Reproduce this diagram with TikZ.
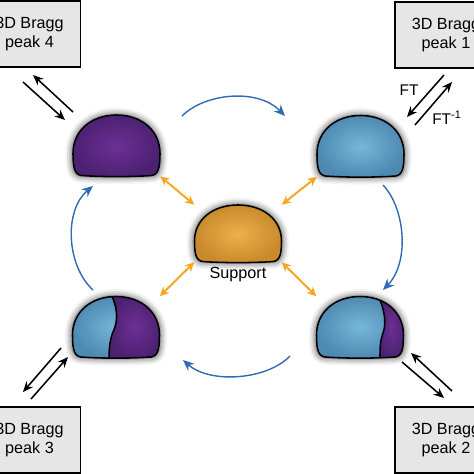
\documentclass[tikz,border=0pt]{standalone}
\usepackage{fontspec}
\setmainfont{Liberation Sans}
\usetikzlibrary{arrows.meta,shadows.blur,positioning}

\definecolor{boxgray}{HTML}{E6E6E6}
\definecolor{purplelight}{HTML}{6C2F96}
\definecolor{purpledark}{HTML}{4C2171}
\definecolor{bluelight}{HTML}{76B7D9}
\definecolor{bluedark}{HTML}{4E89B1}
\definecolor{orangelight}{HTML}{EDB04A}
\definecolor{orangedark}{HTML}{C88A2C}
\definecolor{suporange}{HTML}{F6A623}
\definecolor{cycleblue}{HTML}{2F6CB3}

% dome outline, local pixel units round the centre
\newcommand{\domepath}{(0,-30.5) .. controls (25,-30.5) and (43.5,-15) .. (43.5,8)
  .. controls (43.5,22) and (42,29) .. (35,30)
  .. controls (15,31.5) and (-15,31.5) .. (-35,30)
  .. controls (-42,29) and (-43.5,22) .. (-43.5,8)
  .. controls (-43.5,-15) and (-25,-30.5) .. (0,-30.5) -- cycle}

\begin{document}
\begin{tikzpicture}[x=0.025cm, y=-0.025cm,
	every node/.style={font=\fontsize{11.5}{13}\selectfont},
	peakbox/.style={draw, line width=1.4pt, fill=boxgray, minimum width=2.55cm,
		minimum height=1.65cm, align=center, inner sep=0pt},
	domebox/.style={inner sep=0pt, minimum width=2.175cm, minimum height=1.525cm},
	domeline/.style={draw=black, line width=1.1pt},
	halo/.style={blur shadow={shadow xshift=0pt, shadow yshift=0pt,
		shadow blur radius=4.5pt, shadow opacity=70, shadow scale=1.03}},
	ftarrow/.style={line width=1.1pt, -{Stealth[length=2.6mm, width=2.2mm]}},
	suparrow/.style={draw=suporange, line width=1.4pt,
		{Stealth[length=2.3mm, width=2.2mm]}-{Stealth[length=2.3mm, width=2.2mm]}},
	cyclearrow/.style={draw=cycleblue, line width=1pt,
		-{Stealth[length=2.8mm, width=2.4mm]}}]
	\useasboundingbox (0,0) rectangle (474,474);
	\clip (0,0) rectangle (474,474);

	% Bragg peak boxes
	\node[peakbox] (peakfour) at (29.5,34) {3D Bragg\\peak 4};
	\node[peakbox] (peakone) at (446,35) {3D Bragg\\peak 1};
	\node[peakbox] (peakthree) at (29.5,440) {3D Bragg\\peak 3};
	\node[peakbox] (peaktwo) at (446,440) {3D Bragg\\peak 2};

	% objects
	\node[domebox] (tl) at (116.5,145.5) {};
	\node[domebox] (tr) at (360.5,146) {};
	\node[domebox, minimum height=1.425cm] (sup) at (238,233.5) {};
	\node[domebox] (bl) at (116,327) {};
	\node[domebox] (br) at (360,327) {};
	\node (suplabel) at (238,275) {Support};

	\begin{scope}[shift={(tl.center)}]
		\shade[halo, inner color=purplelight, outer color=purpledark] \domepath;
		\draw[domeline] \domepath;
	\end{scope}
	\begin{scope}[shift={(tr.center)}]
		\shade[halo, inner color=bluelight, outer color=bluedark] \domepath;
		\draw[domeline] \domepath;
	\end{scope}
	\begin{scope}[shift={(sup.center)}, yscale=0.935]
		\shade[halo, inner color=orangelight, outer color=orangedark] \domepath;
		\draw[domeline] \domepath;
	\end{scope}
	\begin{scope}[shift={(bl.center)}]
		\path[halo, fill=white] \domepath;
		\begin{scope}
			\clip \domepath;
			\shade[inner color=bluelight, outer color=bluedark] (-44,-31) rectangle (44,31);
			\shade[inner color=purplelight, outer color=purpledark] (-4.5,-32)
				.. controls (2,-18) and (2,-5) .. (-3,5)
				.. controls (-6,12) and (-7,22) .. (-7,32) -- (45,32) -- (45,-32) -- cycle;
			\draw[domeline] (-4.5,-32) .. controls (2,-18) and (2,-5) .. (-3,5)
				.. controls (-6,12) and (-7,22) .. (-7,32);
		\end{scope}
		\draw[domeline] \domepath;
	\end{scope}
	\begin{scope}[shift={(br.center)}]
		\path[halo, fill=white] \domepath;
		\begin{scope}
			\clip \domepath;
			\shade[inner color=bluelight, outer color=bluedark] (-44,-31) rectangle (44,31);
			\shade[inner color=purplelight, outer color=purpledark] (18,-32)
				.. controls (24,-18) and (27,-5) .. (23,6)
				.. controls (20,14) and (20,22) .. (20,32) -- (45,32) -- (45,-32) -- cycle;
			\draw[domeline] (18,-32) .. controls (24,-18) and (27,-5) .. (23,6)
				.. controls (20,14) and (20,22) .. (20,32);
		\end{scope}
		\draw[domeline] \domepath;
	\end{scope}

	% support constraint
	\draw[suparrow] (tl.south east) -- (sup.north west);
	\draw[suparrow] (tr.south west) -- (sup.north east);
	\draw[suparrow] (bl.north east) -- (sup.south west);
	\draw[suparrow] (br.north west) -- (sup.south east);

	% iteration cycle
	\coordinate (topstart) at (182,116);
	\coordinate (topend) at (285,116);
	\coordinate (rightstart) at (383,185);
	\coordinate (rightend) at (383,290);
	\coordinate (botstart) at (290,356);
	\coordinate (botend) at (183,360);
	\coordinate (leftstart) at (93,290);
	\coordinate (leftend) at (93,186);
	\draw[cyclearrow] (topstart) .. controls (205,93) and (258,88) .. (topend);
	\draw[cyclearrow] (rightstart) .. controls (405,208) and (410,262) .. (rightend);
	\draw[cyclearrow] (botstart) .. controls (267,380) and (210,384) .. (botend);
	\draw[cyclearrow] (leftstart) .. controls (66,265) and (64,210) .. (leftend);

	% Fourier transforms
	\coordinate (fourout) at (73,112);   \coordinate (fourin) at (33,75);
	\coordinate (fourback) at (23,82);   \coordinate (tlin) at (65,120);
	\coordinate (oneout) at (444,75);    \coordinate (trin) at (407,117);
	\coordinate (trout) at (415,125);    \coordinate (onein) at (452,82);
	\coordinate (blout) at (61,348);     \coordinate (threein) at (23,392);
	\coordinate (threeout) at (31,399);  \coordinate (blin) at (68,357);
	\coordinate (brout) at (402,362);    \coordinate (twoin) at (444,398);
	\coordinate (twoout) at (452,391);   \coordinate (brin) at (411,353);
	\draw[ftarrow] (fourout) -- (fourin);
	\draw[ftarrow] (fourback) -- (tlin);
	\draw[ftarrow] (oneout) -- (trin);
	\draw[ftarrow] (trout) -- (onein);
	\draw[ftarrow] (blout) -- (threein);
	\draw[ftarrow] (threeout) -- (blin);
	\draw[ftarrow] (brout) -- (twoin);
	\draw[ftarrow] (twoout) -- (brin);
	\node[font=\fontsize{11}{13}\selectfont] (ftlabel) at (409,90) {FT};
	\node[font=\fontsize{11}{13}\selectfont, anchor=west, inner sep=0pt] (iftlabel)
		at (432,118) {FT\textsuperscript{-1}};
\end{tikzpicture}
\end{document}
